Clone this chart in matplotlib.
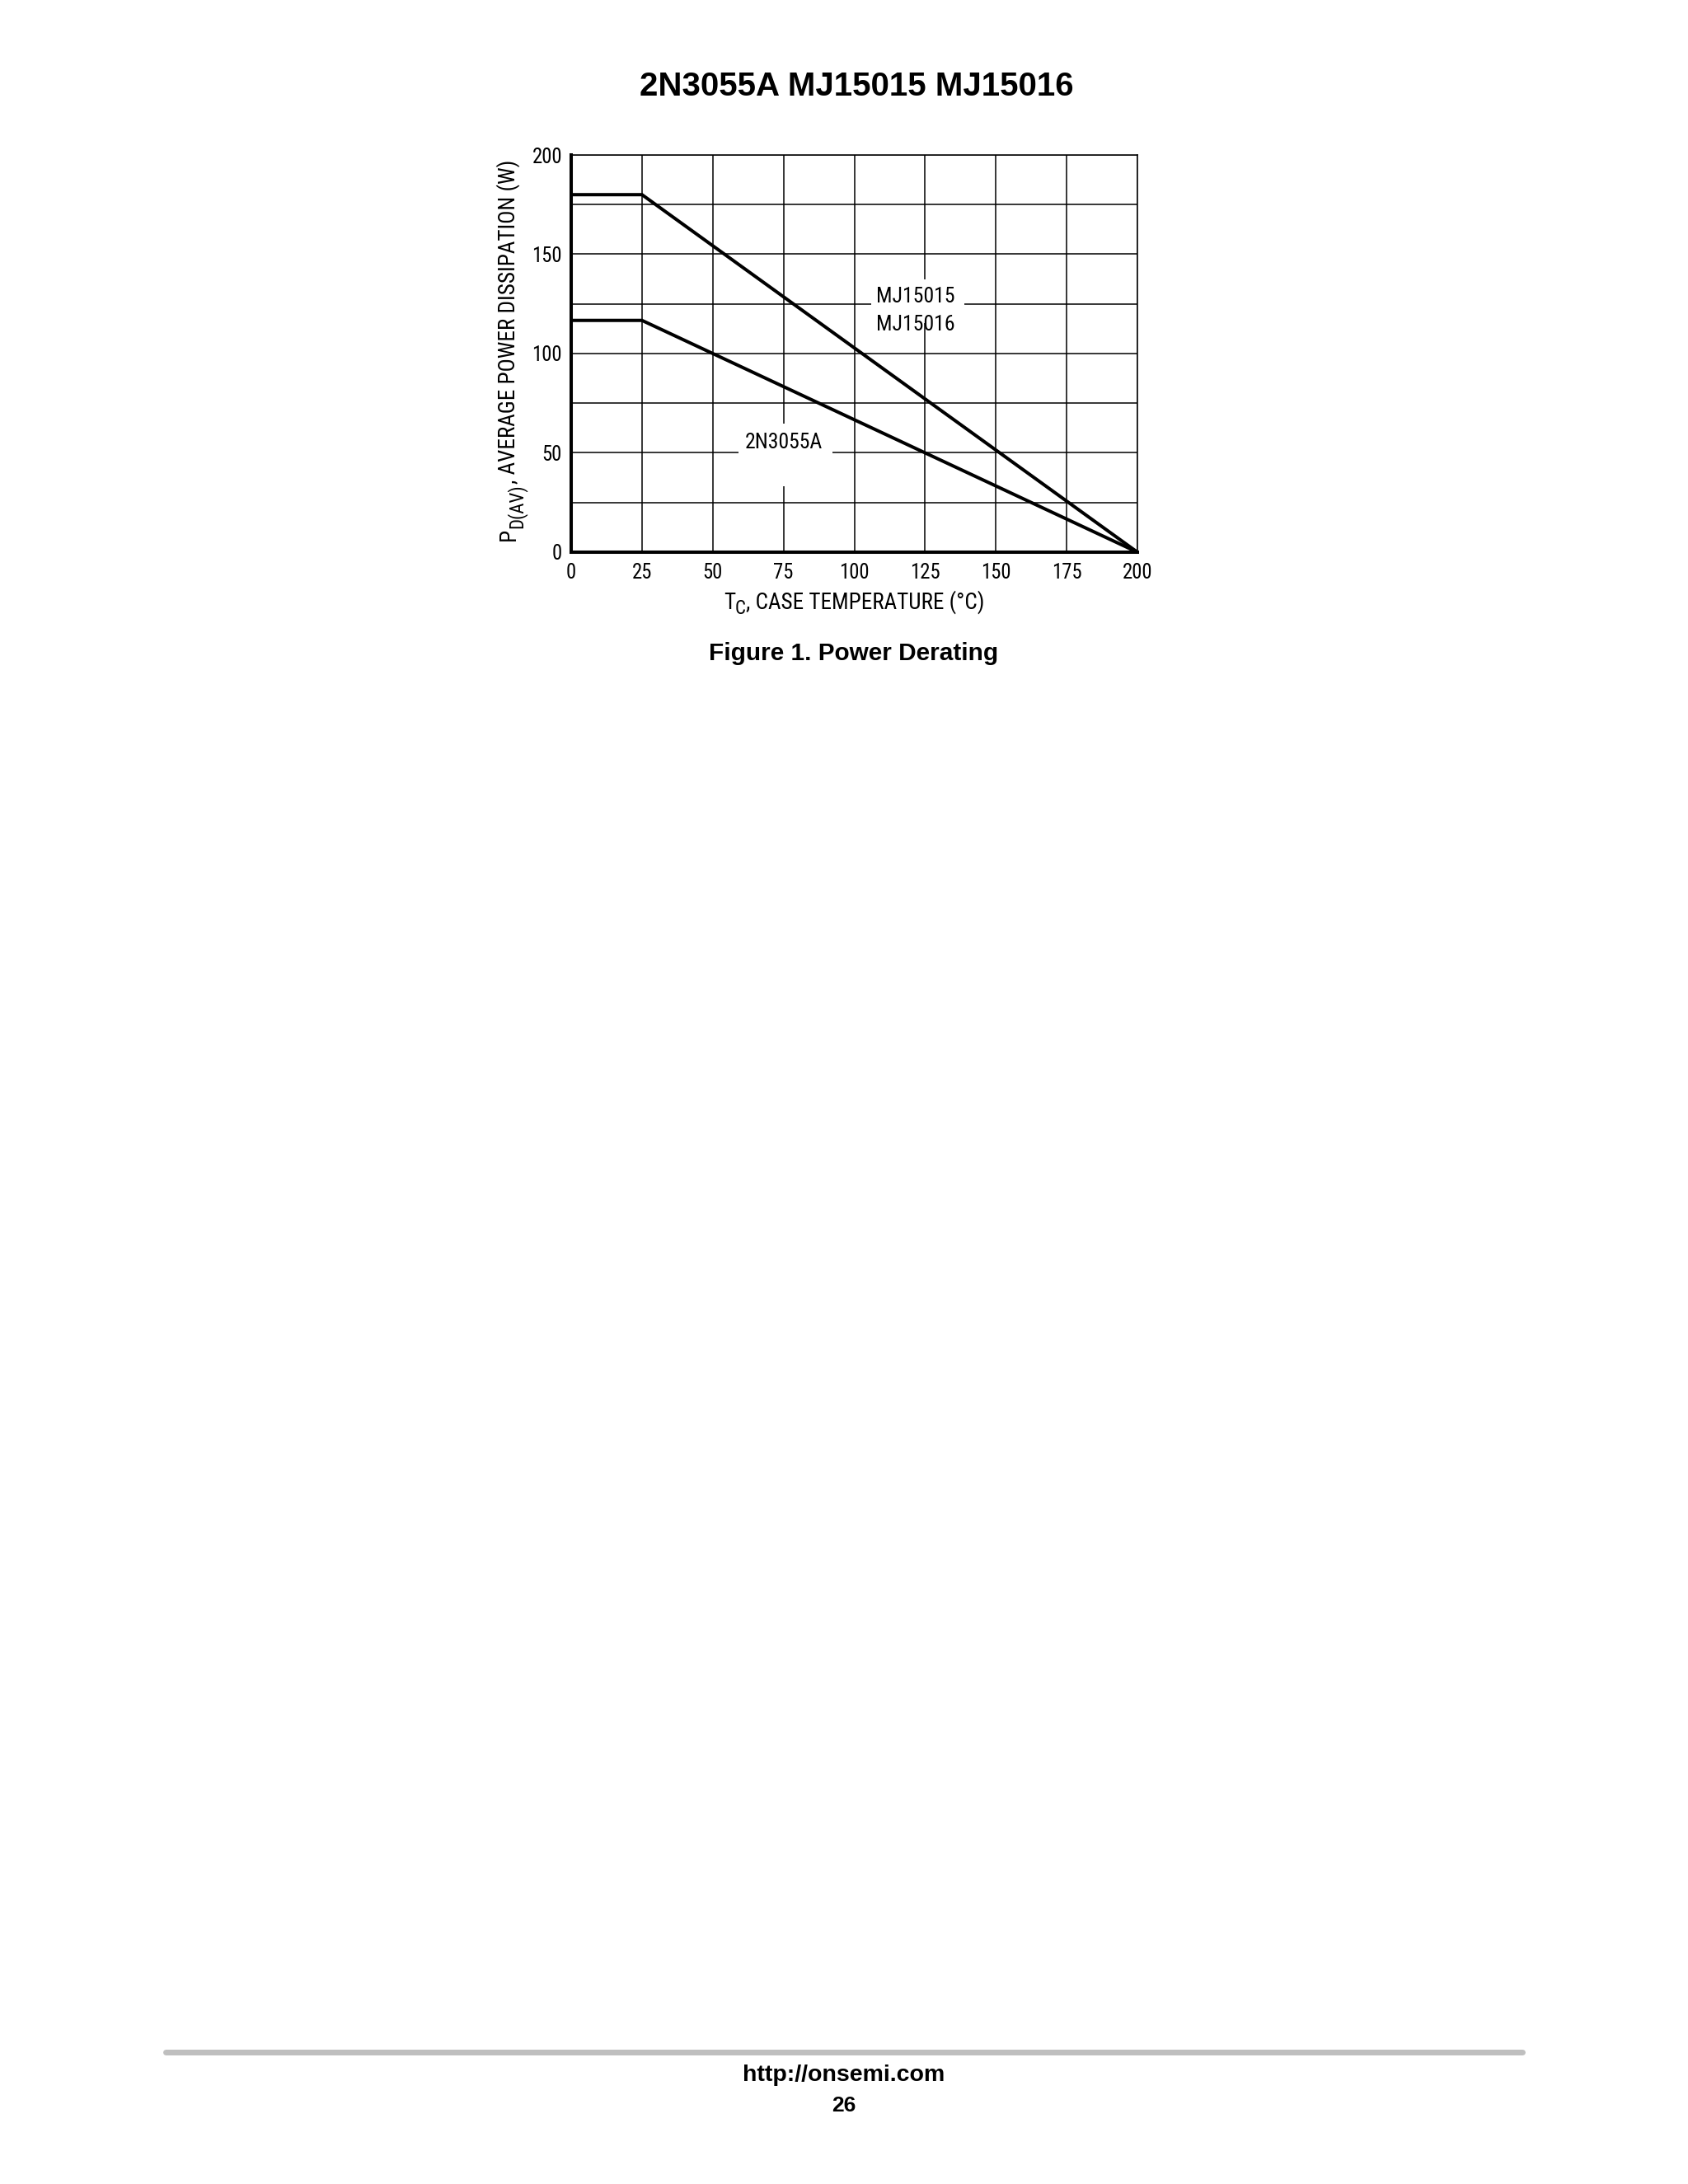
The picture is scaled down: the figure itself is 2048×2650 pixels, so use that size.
import os
import matplotlib
matplotlib.use('Agg')
import matplotlib.pyplot as plt
from matplotlib import font_manager
from matplotlib.font_manager import FontProperties
from matplotlib.patches import Rectangle
from matplotlib.ticker import MultipleLocator
from matplotlib.transforms import IdentityTransform

# ---------------- data ----------------
mj_temp = [0, 25, 200]
mj_power = [180, 180, 0]
a_temp = [0, 25, 200]
a_power = [116.7, 116.7, 0]
x_ticks = [0, 25, 50, 75, 100, 125, 150, 175, 200]
y_ticks = [0, 50, 100, 150, 200]
label_mj = ["MJ15015", "MJ15016"]
label_a = "2N3055A"

# ---------------- fonts ----------------
def pick_narrow():
    ttf = font_manager.fontManager.ttflist
    def regular(f):
        return f.style == 'normal' and str(f.weight) in ('400', 'normal', 'regular', 'book')
    tests = [
        lambda f: f.name == 'Liberation Sans Narrow' and regular(f),
        lambda f: os.path.basename(f.fname).lower() == 'liberationsansnarrow-regular.ttf',
        lambda f: f.name == 'Roboto Condensed' and regular(f),
        lambda f: os.path.basename(f.fname).lower() == 'robotocondensed-regular.ttf',
        lambda f: os.path.basename(f.fname).lower() == 'notosans-condensed.ttf',
        lambda f: f.name == 'Noto Sans Condensed' and regular(f),
        lambda f: f.name == 'Open Sans Condensed' and regular(f),
    ]
    for t in tests:
        for f in ttf:
            try:
                if t(f):
                    return f.fname, True
            except Exception:
                pass
    return font_manager.findfont(FontProperties(family='Liberation Sans')), False

NARROW_FILE, IS_NARROW = pick_narrow()
SANS = 'Liberation Sans'

TICK_SIZE = 17.8 if IS_NARROW else 15.8
LABEL_SIZE = 19.5 if IS_NARROW else 17.0
SUB_SIZE = 16.5 if IS_NARROW else 14.5
ANNOT_SIZE = 18.5 if IS_NARROW else 17.0

def fp(size):
    return FontProperties(fname=NARROW_FILE, size=size)

W, H = 2048, 2650
fig = plt.figure(figsize=(W / 100, H / 100), dpi=100)

def fx(px):
    return px / W

def fy(py):
    return 1 - py / H

ax = fig.add_axes([fx(693), fy(670), fx(1380) - fx(693), fy(188) - fy(670)])
ax.set_xlim(0, 200)
ax.set_ylim(0, 200)
ax.set_xticks(x_ticks)
ax.set_yticks(y_ticks)
ax.yaxis.set_minor_locator(MultipleLocator(25))
ax.set_axisbelow(True)
ax.grid(True, which='both', color='black', linewidth=1.1)
ax.tick_params(which='both', length=0)
ax.tick_params(axis='x', pad=9.5)
ax.tick_params(axis='y', pad=8)
for lbl in ax.get_xticklabels() + ax.get_yticklabels():
    lbl.set_fontproperties(fp(TICK_SIZE))

for s in ['left', 'bottom']:
    ax.spines[s].set_linewidth(2.9)
for s in ['top', 'right']:
    ax.spines[s].set_linewidth(1.1)

ax.plot(mj_temp, mj_power, color='black', linewidth=2.9, zorder=3,
        solid_capstyle='butt', solid_joinstyle='miter')
ax.plot(a_temp, a_power, color='black', linewidth=2.9, zorder=3,
        solid_capstyle='butt', solid_joinstyle='miter')

# white masks behind the curve labels (they interrupt the grid lines)
ax.add_patch(Rectangle((106.1, 115.3), 32.9, 22.0, facecolor='white',
                       edgecolor='none', zorder=1))
ax.add_patch(Rectangle((59.1, 33.2), 33.2, 31.5, facecolor='white',
                       edgecolor='none', zorder=1))

ax.text(121.7, 128.6, label_mj[0], ha='center', va='center',
        fontproperties=fp(ANNOT_SIZE), zorder=4)
ax.text(121.7, 114.5, label_mj[1], ha='center', va='center',
        fontproperties=fp(ANNOT_SIZE), zorder=4)
ax.text(75.1, 55.2, label_a, ha='center', va='center',
        fontproperties=fp(ANNOT_SIZE), zorder=4)

# ---------------- axis labels with subscripts ----------------
renderer = fig.canvas.get_renderer()

def seq_label(parts, center_px, baseline_px, drop, rotated=False):
    texts = []
    for s, size, sub in parts:
        t = fig.text(0, 0, s, fontproperties=fp(size), transform=IdentityTransform(),
                     ha='left', va='baseline', rotation=90 if rotated else 0,
                     rotation_mode='anchor')
        texts.append((t, sub))
    lens = []
    for t, sub in texts:
        bb = t.get_window_extent(renderer)
        lens.append(bb.height if rotated else bb.width)
    total = sum(lens)
    if not rotated:
        x = center_px - total / 2
        for (t, sub), L in zip(texts, lens):
            t.set_position((x, H - baseline_px - (drop if sub else 0)))
            x += L
    else:
        # center_px: vertical centre (pixels from top); baseline_px: x of baseline
        y = (H - center_px) - total / 2
        for (t, sub), L in zip(texts, lens):
            t.set_position((baseline_px + (drop if sub else 0), y))
            y += L

seq_label([('T', LABEL_SIZE, False), ('C', SUB_SIZE, True),
           (', CASE TEMPERATURE (°C)', LABEL_SIZE, False)], 1036, 739, 6)
seq_label([('P', LABEL_SIZE, False), ('D(AV)', SUB_SIZE, True),
           (', AVERAGE POWER DISSIPATION (W)', LABEL_SIZE, False)], 425, 625, 9,
          rotated=True)

# ---------------- page texts ----------------
fig.text(fx(1039), fy(116), '2N3055A MJ15015 MJ15016', ha='center', va='baseline',
         fontsize=29, fontweight='bold', family=[SANS, 'DejaVu Sans'])
fig.text(fx(1036), fy(801), 'Figure 1. Power Derating', ha='center', va='baseline',
         fontsize=21.4, fontweight='bold', family=[SANS, 'DejaVu Sans'])
fig.add_artist(plt.Line2D([fx(201), fx(1847)], [fy(2490), fy(2490)],
                          transform=fig.transFigure, color='#bfbfbf',
                          linewidth=5, solid_capstyle='round'))
fig.text(fx(1024), fy(2525), 'http://onsemi.com', ha='center', va='baseline',
         fontsize=20.5, fontweight='bold', family=[SANS, 'DejaVu Sans'])
fig.text(fx(1024), fy(2562), '26', ha='center', va='baseline',
         fontsize=19, fontweight='bold', family=[SANS, 'DejaVu Sans'])

fig.savefig('out.png', dpi=100, facecolor='white')
